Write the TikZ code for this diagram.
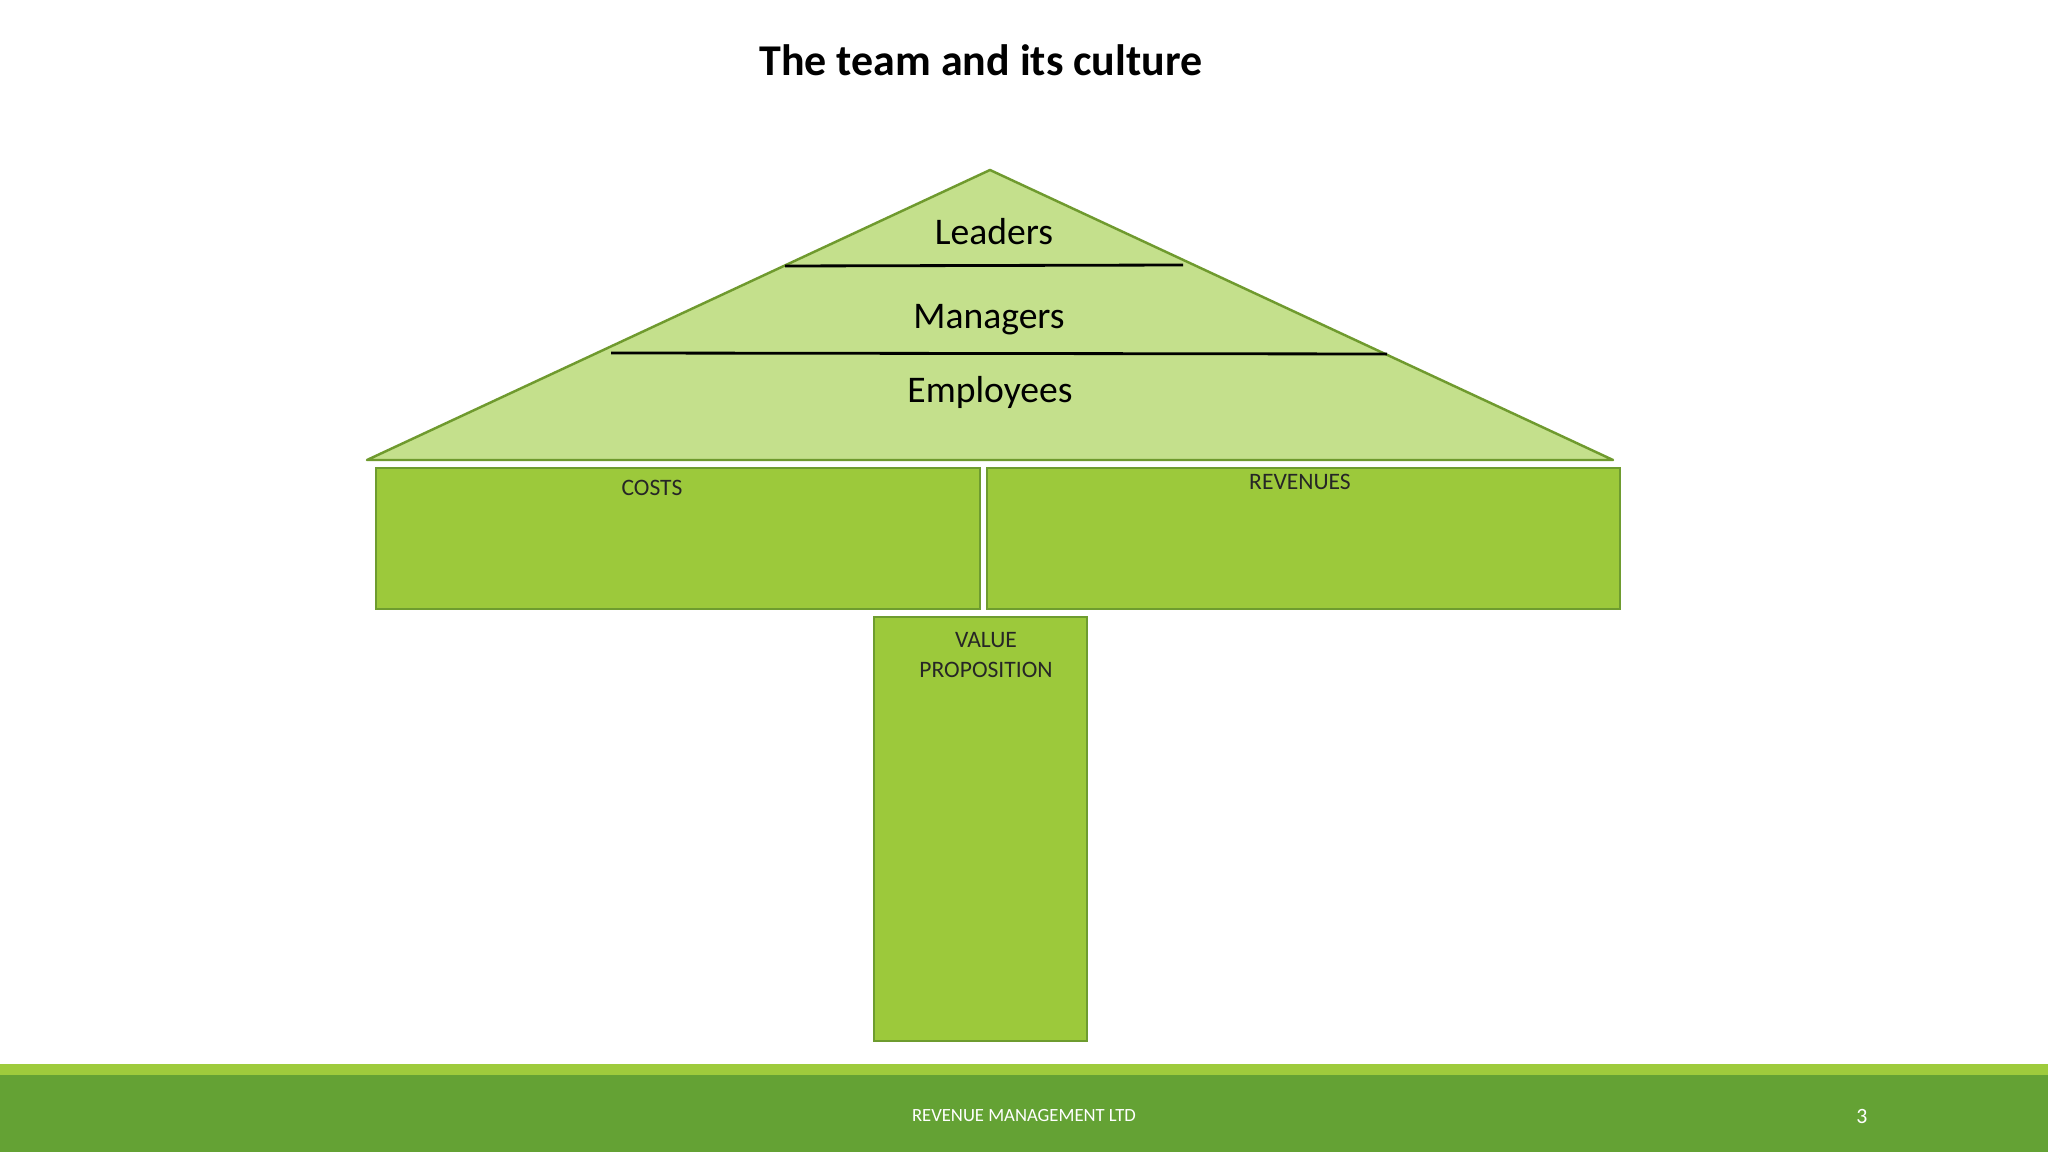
\documentclass[tikz,border=0pt]{standalone}
\usepackage{fontspec}
\setmainfont{Carlito}
\definecolor{trifill}{HTML}{C4E08C}
\definecolor{tridraw}{HTML}{6F9A2E}
\definecolor{boxfill}{HTML}{9CC93B}
\definecolor{boxdraw}{HTML}{6E9C2F}
\definecolor{stripgreen}{HTML}{9ECB3C}
\definecolor{bandgreen}{HTML}{64A234}
\begin{document}
\begin{tikzpicture}[x=0.01cm,y=-0.01cm,
  blockbox/.style={draw=boxdraw,line width=0.6pt,fill=boxfill},
  boxlabel/.style={font=\fontsize{6.7}{8.3}\selectfont,text=black!85,align=center,inner sep=0pt},
  tierlabel/.style={font=\fontsize{10.7}{12}\selectfont,inner sep=0pt},
  tierline/.style={draw=black,line width=0.8pt}]
\useasboundingbox (0,0) rectangle (2048,1152);
\fill[white] (0,0) rectangle (2048,1152);
% title
\node[font=\bfseries\fontsize{12.5}{15}\selectfont,inner sep=0pt] (title) at (981,60) {The team and its culture};
% roof
\draw[draw=tridraw,line width=0.7pt,fill=trifill,line join=round] (990,170) coordinate (apex) -- (1613,460) coordinate (br) -- (367,460) coordinate (bl) -- cycle;
\coordinate (l1a) at (785,266); \coordinate (l1b) at (1183,265);
\coordinate (l2a) at (611,353); \coordinate (l2b) at (1387,354);
\draw[tierline] (l1a) -- (l1b);
\draw[tierline] (l2a) -- (l2b);
\node[tierlabel] (leaders) at (994,232) {Leaders};
\node[tierlabel] (managers) at (989,320) {Managers};
\node[tierlabel] (employees) at (990,392) {Employees};
% boxes
\draw[blockbox] (376,468) rectangle (980,609);
\node[boxlabel] (costs) at (652,488) {COSTS};
\draw[blockbox] (987,468) rectangle (1620,609);
\node[boxlabel] (revenues) at (1300,482) {REVENUES};
\draw[blockbox] (874,617) rectangle (1087,1041);
\node[boxlabel] (vp) at (986,655) {VALUE\\PROPOSITION};
% footer
\fill[stripgreen] (0,1064) rectangle (2048,1075);
\fill[bandgreen] (0,1075) rectangle (2048,1152);
\node[font=\fontsize{5.3}{6}\selectfont,text=white,inner sep=0pt] (company) at (1024,1116) {REVENUE MANAGEMENT LTD};
\node[font=\fontsize{6.2}{7}\selectfont,text=white,inner sep=0pt] (page) at (1862,1116) {3};
\end{tikzpicture}
\end{document}
